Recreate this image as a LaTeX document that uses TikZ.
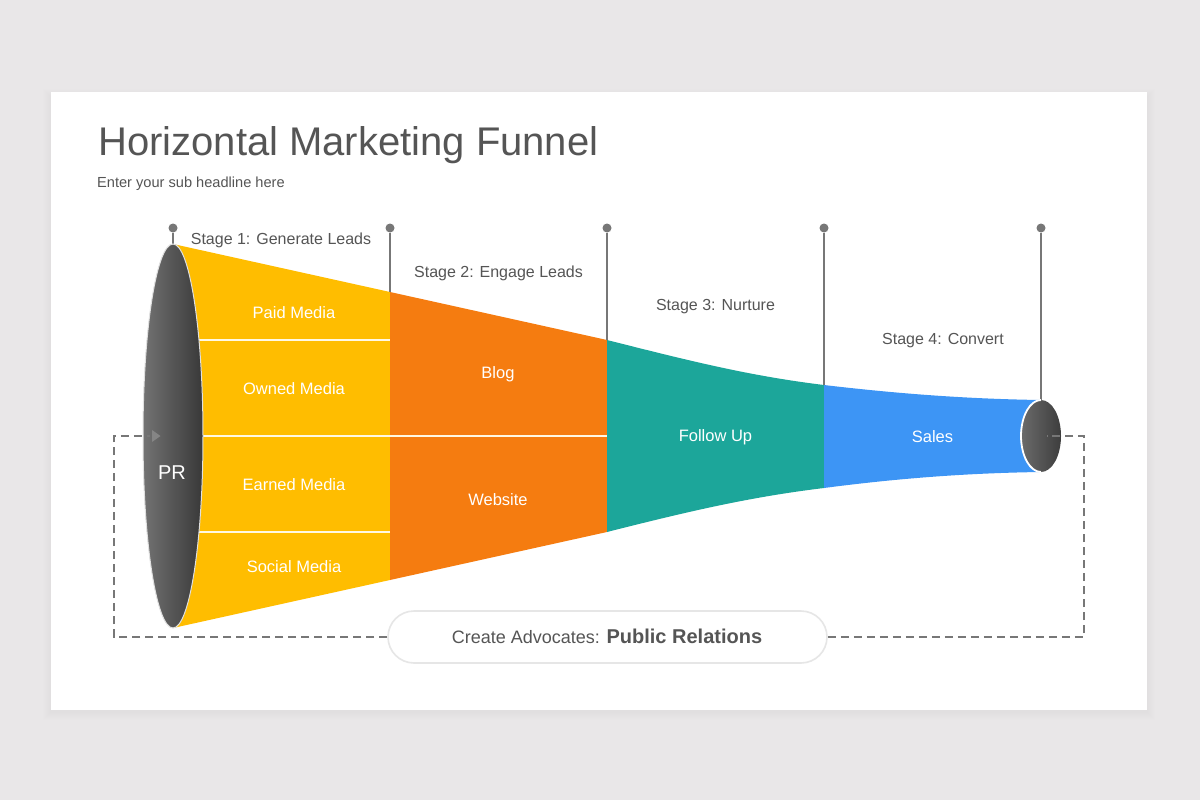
\documentclass[tikz,border=0pt]{standalone}
\usepackage{fontspec}
\setmainfont{Liberation Sans}
\usetikzlibrary{arrows.meta,shapes.geometric,calc}
\definecolor{bgc}{HTML}{E9E7E8}
\definecolor{ytxt}{HTML}{FFF4D0}
\definecolor{yel}{HTML}{FFBD00}
\definecolor{ora}{HTML}{F57C10}
\definecolor{tea}{HTML}{1CA69A}
\definecolor{blu}{HTML}{3D95F5}
\definecolor{ink}{HTML}{555555}
\definecolor{stemc}{HTML}{777777}
\definecolor{pillc}{HTML}{E6E6E6}
\tikzset{
 x=1pt,y=-1pt,
 lab/.style={text=white,font=\fontsize{16.5}{18}\selectfont,inner sep=0pt},
 stage/.style={text=ink,font=\fontsize{16}{18}\selectfont,inner sep=0pt},
 dotn/.style={circle,fill=stemc,minimum size=9pt,inner sep=0pt},
 stemline/.style={draw=stemc,line width=1.7pt},
 sepline/.style={draw=ytxt!60!white,line width=2pt},
 dashline/.style={draw=stemc,line width=1.4pt,dash pattern=on 8pt off 5pt},
}
\begin{document}
\begin{tikzpicture}
\useasboundingbox (0,0) rectangle (1200,800);
\fill[bgc] (0,0) rectangle (1200,800);
% card shadow
\foreach \d in {1,2,...,8}{
 \fill[black,opacity=0.005] (51-\d,92-\d+5) rectangle (1147+\d,710+\d+2);
}
\fill[white] (51,92) rectangle (1147,710);
% title
\node[anchor=west,text=ink,font=\fontsize{40}{44}\selectfont,inner sep=0pt] (title) at (98,145) {Horizontal Marketing Funnel};
\node[anchor=west,text=ink,font=\fontsize{14.6}{17}\selectfont,inner sep=0pt] (sub) at (97,184) {Enter your sub headline here};
% anchors
\coordinate (t0) at (173,244);\coordinate (t1) at (390,292);\coordinate (t2) at (607,340);\coordinate (t3) at (824,385);\coordinate (t4) at (1041,400);
\coordinate (b0) at (173,628);\coordinate (b1) at (390,580);\coordinate (b2) at (607,532);\coordinate (b3) at (824,488);\coordinate (b4) at (1041,472);
% funnel bodies
\fill[yel] (t0)--(t1)--(b1)--(b0)--cycle;
\fill[ora] (t1)--(t2)--(b2)--(b1)--cycle;
\fill[tea] (t2) .. controls (690,361) and (750,376) .. (t3) -- (b3) .. controls (750,497) and (690,511) .. (b2) -- cycle;
\fill[blu] (t3) .. controls (900,394) and (970,399) .. (t4) -- (b4) .. controls (970,473) and (900,478) .. (b3) -- cycle;
% separators
\draw[sepline] (198,340)--(390,340);
\draw[sepline] (203,436)--(607,436);
\draw[sepline] (198,532)--(390,532);
% stems
\node[dotn] (d0) at (173,228) {};
\node[dotn] (d1) at (390,228) {};
\node[dotn] (d2) at (607,228) {};
\node[dotn] (d3) at (824,228) {};
\node[dotn] (d4) at (1041,228) {};
\draw[stemline] (d0)--(t0);
\draw[stemline] (d1)--(t1);
\draw[stemline] (d2)--(t2);
\draw[stemline] (d3)--(t3);
\draw[stemline] (d4)--(t4);
% pill
\node[draw=pillc,line width=1.6pt,fill=white,rectangle,rounded corners=26pt,minimum width=439pt,minimum height=52pt,inner sep=0pt] (pill) at (607.5,637) {};
\node[text=ink,inner sep=0pt,font=\fontsize{18}{20}\selectfont] (pilltxt) at (607,636) {Create Advocates: {\fontsize{20}{22}\selectfont\bfseries Public Relations}};
% small ellipse
\path[left color=black!58,right color=black!76] (1041,436) ellipse [x radius=20,y radius=36];
\draw[white,line width=1.8pt] (1041,400) arc[start angle=-90,end angle=-270,x radius=20,y radius=36];
\coordinate (se) at (1047,436);
% big ellipse
\path[draw=black!12,line width=1pt,left color=black!55,right color=black!78] (173,436) ellipse [x radius=30,y radius=192];
\node[text=white,font=\fontsize{20}{22}\selectfont,inner sep=0pt] (pr) at (172,473) {PR};
% dashed loop
\coordinate (lc) at (114,637);\coordinate (lt) at (114,436);\coordinate (le) at (150,436);
\coordinate (rc) at (1084,637);\coordinate (rt) at (1084,436);
\draw[dashline] (pill.west)--(lc)--(lt)--(le);
\fill[black!48] (152,430)--(160.5,436)--(152,442)--cycle;
\draw[dashline] (pill.east)--(rc)--(rt)--(se);
% stage labels
\node[stage] (s1) at (281,240) {Stage 1: Generate Leads};
\node[stage] (s2) at (498.5,273) {Stage 2: Engage Leads};
\node[stage] (s3) at (715.5,307) {Stage 3: Nurture};
\node[stage] (s4) at (943,341) {Stage 4: Convert};
% labels
\node[lab] (paid) at (294,313) {Paid Media};
\node[lab] (owned) at (294,389) {Owned Media};
\node[lab] (earned) at (294,485) {Earned Media};
\node[lab] (social) at (294,567) {Social Media};
\node[lab] (blog) at (498,374) {Blog};
\node[lab] (web) at (498,500) {Website};
\node[lab] (fu) at (715.5,437) {Follow Up};
\node[lab] (sales) at (932.5,437) {Sales};
\end{tikzpicture}
\end{document}
